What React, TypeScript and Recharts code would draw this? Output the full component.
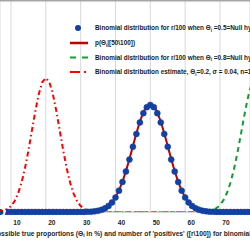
import React from "react";
import { ComposedChart, Line, XAxis, YAxis, CartesianGrid, Customized } from "recharts";

// x values: possible true proportions (%) / number of positives
const xValues = [
  4, 5, 6, 7, 8, 9, 10, 11, 12, 13,
  14, 15, 16, 17, 18, 19, 20, 21, 22, 23,
  24, 25, 26, 27, 28, 29, 30, 31, 32, 33,
  34, 35, 36, 37, 38, 39, 40, 41, 42, 43,
  44, 45, 46, 47, 48, 49, 50, 51, 52, 53,
  54, 55, 56, 57, 58, 59, 60, 61, 62, 63,
  64, 65, 66, 67, 68, 69, 70, 71, 72, 73,
  74, 75, 76, 77, 78, 79, 80, 81, 82,
];

// Binomial distribution for r/100 when theta = 0.5 (blue dots)
const nullHalf = [
  0, 0, 0, 0, 0, 0, 0, 0, 0, 0,
  0, 0, 0, 0, 0, 0, 0, 0, 0, 0,
  0, 0, 0, 0, 0, 0, 0, 0, 0.0001, 0.0002,
  0.0005, 0.0009, 0.0016, 0.0027, 0.0045, 0.0071, 0.0108, 0.0159, 0.0223, 0.0301,
  0.039, 0.0485, 0.058, 0.0666, 0.0735, 0.078, 0.0796, 0.078, 0.0735, 0.0666,
  0.058, 0.0485, 0.039, 0.0301, 0.0223, 0.0159, 0.0108, 0.0071, 0.0045, 0.0027,
  0.0016, 0.0009, 0.0005, 0.0002, 0.0001, 0, 0, 0, 0, 0,
  0, 0, 0, 0, 0, 0, 0, 0, 0,
];

// p(theta | [50\100]) (red solid line)
const posterior = [
  0, 0, 0, 0, 0, 0, 0, 0, 0, 0,
  0, 0, 0, 0, 0, 0, 0, 0, 0, 0,
  0, 0, 0, 0, 0, 0, 0, 0, 0.0001, 0.0002,
  0.0005, 0.0009, 0.0016, 0.0027, 0.0045, 0.0072, 0.0109, 0.0161, 0.0225, 0.0304,
  0.0394, 0.049, 0.0586, 0.0673, 0.0742, 0.0788, 0.0804, 0.0788, 0.0742, 0.0673,
  0.0586, 0.049, 0.0394, 0.0304, 0.0225, 0.0161, 0.0109, 0.0072, 0.0045, 0.0027,
  0.0016, 0.0009, 0.0005, 0.0002, 0.0001, 0, 0, 0, 0, 0,
  0, 0, 0, 0, 0, 0, 0, 0, 0,
];

// Binomial distribution for r/100 when theta = 0.8 (green dashed)
const nullEight = [
  0, 0, 0, 0, 0, 0, 0, 0, 0, 0,
  0, 0, 0, 0, 0, 0, 0, 0, 0, 0,
  0, 0, 0, 0, 0, 0, 0, 0, 0, 0,
  0, 0, 0, 0, 0, 0, 0, 0, 0, 0,
  0, 0, 0, 0, 0, 0, 0, 0, 0, 0,
  0, 0, 0, 0, 0, 0, 0, 0, 0, 0,
  0.0001, 0.0002, 0.0004, 0.0008, 0.0016, 0.0029, 0.0052, 0.0088, 0.0141, 0.0217,
  0.0316, 0.0439, 0.0577, 0.072, 0.0849, 0.0946, 0.0993, 0.0981, 0.0909,
];

// Binomial distribution estimate, theta = 0.2, sigma = 0.04 (red dash-dot)
const estimate = [
  0, 0.0001, 0.0002, 0.0005, 0.0011, 0.0023, 0.0044, 0.0079, 0.0135, 0.0216,
  0.0324, 0.0457, 0.0605, 0.0753, 0.088, 0.0967, 0.0997, 0.0967, 0.088, 0.0753,
  0.0605, 0.0457, 0.0324, 0.0216, 0.0135, 0.0079, 0.0044, 0.0023, 0.0011, 0.0005,
  0.0002, 0.0001, 0, 0, 0, 0, 0, 0, 0, 0,
  0, 0, 0, 0, 0, 0, 0, 0, 0, 0,
  0, 0, 0, 0, 0, 0, 0, 0, 0, 0,
  0, 0, 0, 0, 0, 0, 0, 0, 0, 0,
  0, 0, 0, 0, 0, 0, 0, 0, 0,
];

const xTicks = [10, 20, 30, 40, 50, 60, 70];
const yTicks = [0, 0.02, 0.04, 0.06, 0.08, 0.1, 0.12, 0.14];

const legendLabels = [
  ["Binomial distribution for r/100 when Θ", "i", " =0.5=Null hypothesis"],
  ["p(Θ", "i", "|[50\\100])"],
  ["Binomial distribution for r/100 when Θ", "i", " =0.8=Null hypothesis"],
  ["Binomial distribution estimate, Θ", "i", "=0.2, σ = 0.04, n=100"],
];

const axisTitleParts = [
  "Possible true proportions (Θ",
  "i",
  " in %) and number of 'positives' ([r\\100])  for binomial distribution",
];

const data = xValues.map((x, i) => ({
  x,
  nullHalf: nullHalf[i],
  posterior: posterior[i],
  nullEight: nullEight[i],
  estimate: estimate[i],
}));

const FONT = "'Liberation Sans', Arial, sans-serif";
const BLUE = "#1341a3";
const DARKRED = "#c00000";
const RED = "#ff0000";
const GREEN = "#10a030";
const LEGEND_SIZE = 6.4;
const TITLE_SIZE = 6.7;

const TickLabel = (p: any) => (
  <text
    x={p.x + 6}
    y={p.y + 12.5}
    textAnchor="middle"
    fontFamily={FONT}
    fontWeight="bold"
    fontSize={6.6}
    fill="#262626"
  >
    {p.payload.value}
  </text>
);

const AxisTitle = () => (
  <text x={-7.5} y={236} fontFamily={FONT} fontWeight="bold" fontSize={TITLE_SIZE} fill="#262626">
    {axisTitleParts[0]}
    <tspan fontSize={4.8} dy={1.3}>{axisTitleParts[1]}</tspan>
    <tspan dy={-1.3}>{axisTitleParts[2]}</tspan>
  </text>
);

const Legend = () => {
  const rowY = [28, 43, 57.5, 72];
  return (
    <div style={{ position: "absolute", left: 0, top: 0, width: 250, height: 250, pointerEvents: "none" }}>
      <svg width={250} height={250} style={{ position: "absolute", left: 0, top: 0 }}>
        <circle cx={78} cy={rowY[0]} r={3} fill={BLUE} />
        <line x1={70} x2={88} y1={rowY[1]} y2={rowY[1]} stroke={DARKRED} strokeWidth={2.5} />
        <line x1={70} x2={88} y1={rowY[2]} y2={rowY[2]} stroke={GREEN} strokeWidth={2.2} strokeDasharray="6 6" />
        <line x1={70} x2={88} y1={rowY[3]} y2={rowY[3]} stroke={RED} strokeWidth={2.2} strokeDasharray="10 4 2 4" />
        {legendLabels.map((parts, i) => (
          <text
            key={i}
            x={95}
            y={rowY[i] + 2.3}
            fontFamily={FONT}
            fontWeight="bold"
            fontSize={LEGEND_SIZE}
            fill="#1a1a1a"
          >
            {parts[0]}
            <tspan fontSize={4.6} dy={1.3}>{parts[1]}</tspan>
            <tspan dy={-1.3}>{parts[2]}</tspan>
          </text>
        ))}
      </svg>
    </div>
  );
};

export default function App() {
  return (
    <div style={{ position: "absolute", left: 0, top: 0, width: 250, height: 250, overflow: "hidden", background: "#fff" }}>
      <ComposedChart width={250} height={250} data={data} margin={{ top: 0, right: 0, bottom: 0, left: 0 }}>
        <CartesianGrid stroke="#d9d9d9" strokeWidth={1} />
        <XAxis
          dataKey="x"
          type="number"
          domain={[6.842, 78.62]}
          allowDataOverflow
          ticks={xTicks}
          height={38}
          tickLine={false}
          tickSize={0}
          tickMargin={0}
          axisLine={{ stroke: "#bfbfbf" }}
          tick={TickLabel}
          interval={0}
        />
        <YAxis
          type="number"
          domain={[0, 0.1577]}
          allowDataOverflow
          ticks={yTicks}
          width={0}
          tick={false}
          tickLine={false}
          axisLine={false}
        />
        <Line dataKey="nullEight" stroke={GREEN} strokeWidth={2} strokeDasharray="5 4" dot={false} isAnimationActive={false} />
        <Line dataKey="estimate" stroke={RED} strokeWidth={2} strokeDasharray="5 3 1.5 3" dot={false} isAnimationActive={false} />
        <Line dataKey="posterior" stroke={DARKRED} strokeWidth={2} dot={false} isAnimationActive={false} />
        <Line
          dataKey="nullHalf"
          stroke="none"
          dot={{ r: 3, fill: BLUE, stroke: BLUE, strokeWidth: 0.5, clipDot: false }}
          isAnimationActive={false}
        />
        <Customized component={AxisTitle} />
        <line x1={0} x2={250} y1={0.75} y2={0.75} stroke="#a6a6a6" strokeWidth={1.5} />
      </ComposedChart>
      <Legend />
    </div>
  );
}
